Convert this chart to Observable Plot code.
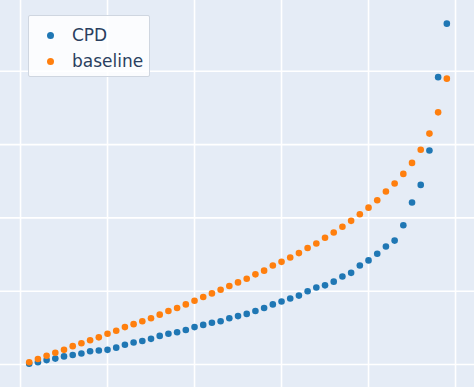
<!DOCTYPE html>
<html>
<head>
<meta charset="utf-8">
<script src="https://cdn.jsdelivr.net/npm/d3@7"></script>
<script src="https://cdn.jsdelivr.net/npm/@observablehq/plot@0.6"></script>
<style>
  html, body { margin: 0; padding: 0; background: #e5ecf6; }
  #wrap { position: relative; width: 474px; height: 387px; overflow: hidden; }
  #legend {
    position: absolute; left: 28px; top: 15px; width: 122px; height: 62px;
    background: rgba(255,255,255,0.85); border: 1px solid #cfd6e0; border-radius: 2px;
    font-family: "DejaVu Sans", sans-serif; font-size: 17px; color: #2a3f5f;
    box-sizing: border-box;
  }
  .item { position: absolute; left: 0; height: 20px; line-height: 20px; white-space: nowrap; }
  .sw { position: absolute; left: 18px; top: 7px; width: 7px; height: 7px; border-radius: 50%; }
  .lbl { position: absolute; left: 43px; top: 0; }
</style>
</head>
<body>
<div id="wrap"></div>
<script>
// x positions (index 1..49)
const steps = d3.range(1, 50);
// CPD series
const cpd = [0.01,0.03,0.06,0.08,0.11,0.13,0.15,0.18,0.19,0.20,
             0.23,0.27,0.30,0.32,0.35,0.39,0.42,0.44,0.47,0.51,
             0.54,0.57,0.59,0.63,0.66,0.69,0.73,0.77,0.82,0.86,
             0.90,0.94,1.00,1.05,1.08,1.13,1.20,1.25,1.35,1.42,
             1.51,1.61,1.69,1.90,2.21,2.45,2.92,3.92,4.65];
// baseline series
const baseline = [0.03,0.075,0.12,0.16,0.20,0.25,0.29,0.33,0.37,0.42,
                  0.46,0.51,0.55,0.59,0.63,0.68,0.73,0.77,0.82,0.87,
                  0.92,0.97,1.02,1.07,1.12,1.17,1.23,1.28,1.35,1.40,
                  1.46,1.52,1.59,1.65,1.73,1.80,1.88,1.96,2.05,2.14,
                  2.24,2.36,2.47,2.60,2.75,2.93,3.15,3.44,3.90];
const xTicks = [0, 10, 20, 30, 40, 50];
const yTicks = [0, 1, 2, 3, 4, 5];
const seriesNames = ["CPD", "baseline"];
const seriesColors = ["#1f77b4", "#ff7f0e"];

const rows = [];
steps.forEach((s, i) => rows.push({step: s, value: cpd[i], series: seriesNames[0]}));
steps.forEach((s, i) => rows.push({step: s, value: baseline[i], series: seriesNames[1]}));

const chart = Plot.plot({
  width: 474,
  height: 387,
  margin: 0,
  x: {domain: [-2.3, 52.18], axis: null},
  y: {domain: [-0.314, 4.966], axis: null},
  color: {domain: seriesNames, range: seriesColors},
  marks: [
    Plot.frame({fill: "#e5ecf6", stroke: null}),
    Plot.gridX(xTicks, {stroke: "white", strokeOpacity: 1, strokeWidth: 1.6}),
    Plot.gridY(yTicks, {stroke: "white", strokeOpacity: 1, strokeWidth: 1.6}),
    Plot.dot(rows, {x: "step", y: "value", fill: "series", r: 3.3, stroke: null})
  ]
});
document.getElementById("wrap").appendChild(chart);

const legend = document.createElement("div");
legend.id = "legend";
seriesNames.forEach((name, i) => {
  const item = document.createElement("div");
  item.className = "item";
  item.style.top = (9 + i * 26) + "px";
  const sw = document.createElement("span");
  sw.className = "sw";
  sw.style.background = seriesColors[i];
  const lbl = document.createElement("span");
  lbl.className = "lbl";
  lbl.textContent = name;
  item.appendChild(sw);
  item.appendChild(lbl);
  legend.appendChild(item);
});
document.getElementById("wrap").appendChild(legend);
</script>
</body>
</html>
